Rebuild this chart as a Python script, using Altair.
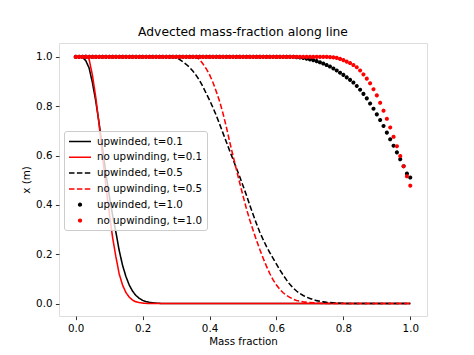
import altair as alt
import pandas as pd

# sample positions along the horizontal axis (0.00 .. 1.00, 101 samples)
X = [round(i * 0.01, 2) for i in range(101)]

LABELS = [
    "upwinded, t=0.1",
    "no upwinding, t=0.1",
    "upwinded, t=0.5",
    "no upwinding, t=0.5",
    "upwinded, t=1.0",
    "no upwinding, t=1.0",
]
COLORS = ["#000000", "#ff0000", "#000000", "#ff0000", "#000000", "#ff0000"]
DASHES = [[1, 0], [1, 0], [5.5, 2.4], [5.5, 2.4], [1, 0], [1, 0]]
LINE_GLYPH = "M-2,0H2"
DOT_GLYPH = "M-0.25,0A0.25,0.25,0,1,1,0.25,0A0.25,0.25,0,1,1,-0.25,0Z"
SHAPES = [LINE_GLYPH, LINE_GLYPH, LINE_GLYPH, LINE_GLYPH, DOT_GLYPH, DOT_GLYPH]

UPW_T01 = [
    1.0, 1.0, 0.998, 0.985, 0.955, 0.895, 0.82, 0.73, 0.63, 0.53,
    0.44, 0.36, 0.29, 0.215, 0.155, 0.11, 0.075, 0.05, 0.033, 0.021,
    0.013, 0.008, 0.005, 0.003, 0.002, 0.001, 0.0005, 0.0, 0.0, 0.0,
    0.0, 0.0, 0.0, 0.0, 0.0, 0.0, 0.0, 0.0, 0.0, 0.0,
    0.0, 0.0, 0.0, 0.0, 0.0, 0.0, 0.0, 0.0, 0.0, 0.0,
    0.0, 0.0, 0.0, 0.0, 0.0, 0.0, 0.0, 0.0, 0.0, 0.0,
    0.0, 0.0, 0.0, 0.0, 0.0, 0.0, 0.0, 0.0, 0.0, 0.0,
    0.0, 0.0, 0.0, 0.0, 0.0, 0.0, 0.0, 0.0, 0.0, 0.0,
    0.0, 0.0, 0.0, 0.0, 0.0, 0.0, 0.0, 0.0, 0.0, 0.0,
    0.0, 0.0, 0.0, 0.0, 0.0, 0.0, 0.0, 0.0, 0.0, 0.0,
    0.0,
]
NOUPW_T01 = [
    1.0, 1.0, 1.002, 1.006, 0.99, 0.925, 0.835, 0.725, 0.6, 0.48,
    0.37, 0.27, 0.19, 0.12, 0.075, 0.045, 0.026, 0.014, 0.007, 0.004,
    0.002, 0.001, 0.0, 0.0, 0.0, 0.0, 0.0, 0.0, 0.0, 0.0,
    0.0, 0.0, 0.0, 0.0, 0.0, 0.0, 0.0, 0.0, 0.0, 0.0,
    0.0, 0.0, 0.0, 0.0, 0.0, 0.0, 0.0, 0.0, 0.0, 0.0,
    0.0, 0.0, 0.0, 0.0, 0.0, 0.0, 0.0, 0.0, 0.0, 0.0,
    0.0, 0.0, 0.0, 0.0, 0.0, 0.0, 0.0, 0.0, 0.0, 0.0,
    0.0, 0.0, 0.0, 0.0, 0.0, 0.0, 0.0, 0.0, 0.0, 0.0,
    0.0, 0.0, 0.0, 0.0, 0.0, 0.0, 0.0, 0.0, 0.0, 0.0,
    0.0, 0.0, 0.0, 0.0, 0.0, 0.0, 0.0, 0.0, 0.0, 0.0,
    0.0,
]
UPW_T05 = [
    1.0, 1.0, 1.0, 1.0, 1.0, 1.0, 1.0, 1.0, 1.0, 1.0,
    1.0, 1.0, 1.0, 1.0, 1.0, 1.0, 1.0, 1.0, 1.0, 1.0,
    1.0, 1.0, 1.0, 1.0, 1.0, 1.0, 1.0, 1.0, 1.0, 0.999,
    0.997, 0.99, 0.98, 0.97, 0.958, 0.943, 0.925, 0.905, 0.88, 0.852,
    0.825, 0.795, 0.763, 0.728, 0.692, 0.656, 0.62, 0.585, 0.55, 0.515,
    0.478, 0.44, 0.40, 0.362, 0.325, 0.29, 0.26, 0.232, 0.207, 0.183,
    0.16, 0.137, 0.116, 0.096, 0.078, 0.063, 0.051, 0.041, 0.033, 0.026,
    0.021, 0.016, 0.012, 0.009, 0.007, 0.005, 0.004, 0.003, 0.002, 0.0015,
    0.001, 0.0005, 0.0, 0.0, 0.0, 0.0, 0.0, 0.0, 0.0, 0.0,
    0.0, 0.0, 0.0, 0.0, 0.0, 0.0, 0.0, 0.0, 0.0, 0.0,
    0.0,
]
NOUPW_T05 = [
    1.0, 1.0, 1.0, 1.0, 1.0, 1.0, 1.0, 1.0, 1.0, 1.0,
    1.0, 1.0, 1.0, 1.0, 1.0, 1.0, 1.0, 1.0, 1.0, 1.0,
    1.0, 1.0, 1.0, 1.0, 1.0, 1.0, 1.0, 1.0, 1.0, 1.0,
    1.0, 1.0, 1.0, 1.0, 1.0, 1.0, 0.998, 0.99, 0.972, 0.952,
    0.928, 0.897, 0.86, 0.82, 0.772, 0.717, 0.657, 0.60, 0.545, 0.49,
    0.437, 0.386, 0.34, 0.298, 0.258, 0.22, 0.185, 0.152, 0.122, 0.096,
    0.075, 0.058, 0.044, 0.033, 0.025, 0.018, 0.013, 0.01, 0.007, 0.005,
    0.004, 0.003, 0.002, 0.001, 0.0, 0.0, 0.0, 0.0, 0.0, 0.0,
    0.0, 0.0, 0.0, 0.0, 0.0, 0.0, 0.0, 0.0, 0.0, 0.0,
    0.0, 0.0, 0.0, 0.0, 0.0, 0.0, 0.0, 0.0, 0.0, 0.0,
    0.0,
]
UPW_T10 = [
    1.0, 1.0, 1.0, 1.0, 1.0, 1.0, 1.0, 1.0, 1.0, 1.0,
    1.0, 1.0, 1.0, 1.0, 1.0, 1.0, 1.0, 1.0, 1.0, 1.0,
    1.0, 1.0, 1.0, 1.0, 1.0, 1.0, 1.0, 1.0, 1.0, 1.0,
    1.0, 1.0, 1.0, 1.0, 1.0, 1.0, 1.0, 1.0, 1.0, 1.0,
    1.0, 1.0, 1.0, 1.0, 1.0, 1.0, 1.0, 1.0, 1.0, 1.0,
    1.0, 1.0, 1.0, 1.0, 1.0, 1.0, 1.0, 1.0, 1.0, 1.0,
    1.0, 1.0, 1.0, 1.0, 1.0, 1.0, 0.999, 0.998, 0.996, 0.993,
    0.990, 0.987, 0.983, 0.978, 0.973, 0.967, 0.961, 0.953, 0.945, 0.936,
    0.927, 0.917, 0.907, 0.896, 0.882, 0.867, 0.850, 0.832, 0.811, 0.790,
    0.767, 0.744, 0.720, 0.693, 0.666, 0.640, 0.613, 0.585, 0.557, 0.527,
    0.511,
]
NOUPW_T10 = [
    1.0, 1.0, 1.0, 1.0, 1.0, 1.0, 1.0, 1.0, 1.0, 1.0,
    1.0, 1.0, 1.0, 1.0, 1.0, 1.0, 1.0, 1.0, 1.0, 1.0,
    1.0, 1.0, 1.0, 1.0, 1.0, 1.0, 1.0, 1.0, 1.0, 1.0,
    1.0, 1.0, 1.0, 1.0, 1.0, 1.0, 1.0, 1.0, 1.0, 1.0,
    1.0, 1.0, 1.0, 1.0, 1.0, 1.0, 1.0, 1.0, 1.0, 1.0,
    1.0, 1.0, 1.0, 1.0, 1.0, 1.0, 1.0, 1.0, 1.0, 1.0,
    1.0, 1.0, 1.0, 1.0, 1.0, 1.0, 1.0, 1.0, 1.0, 1.0,
    1.0, 1.0, 1.0, 1.0, 1.0, 1.0, 0.999, 0.998, 0.996, 0.992,
    0.987, 0.981, 0.975, 0.967, 0.958, 0.945, 0.929, 0.912, 0.893, 0.869,
    0.844, 0.814, 0.782, 0.749, 0.714, 0.676, 0.638, 0.598, 0.557, 0.516,
    0.478,
]

X_TICKS = [0.0, 0.2, 0.4, 0.6, 0.8, 1.0]
Y_TICKS = [0.0, 0.2, 0.4, 0.6, 0.8, 1.0]

FONT = "DejaVu Sans"
FS = 10.3


def frame(values, label):
    return pd.DataFrame({"x": X, "y": values, "series": label})


xscale = alt.Scale(domain=[-0.05, 1.05], nice=False, zero=False)
yscale = alt.Scale(domain=[-0.0503, 1.0563], nice=False, zero=False)

axis_common = dict(
    format=".1f", tickSize=3.6, tickWidth=0.8, tickColor="black",
    labelPadding=3.4, labelFontSize=FS, labelFont=FONT, labelColor="black",
    domain=False, grid=False, titleFont=FONT, titleFontSize=FS,
    titleFontWeight="normal", titleColor="black",
)
xaxis = alt.Axis(values=X_TICKS, titlePadding=3, **axis_common)
yaxis = alt.Axis(values=Y_TICKS, titlePadding=4, **axis_common)

legend = alt.Legend(
    title=None, orient="none", legendX=5, legendY=88,
    symbolSize=121, symbolStrokeWidth=1.5, symbolOffset=5.5, labelOffset=10.5,
    labelFont=FONT, labelFontSize=FS, labelColor="black",
    rowPadding=3.8, padding=4, cornerRadius=2.5,
    strokeColor="#cccccc", fillColor="rgba(255,255,255,0.8)",
)

xenc = alt.X("x:Q", scale=xscale, axis=xaxis, title="Mass fraction")
yenc = alt.Y("y:Q", scale=yscale, axis=yaxis, title="x (m)")

line_series = [
    (UPW_T01, LABELS[0], COLORS[0], DASHES[0]),
    (NOUPW_T01, LABELS[1], COLORS[1], DASHES[1]),
    (UPW_T05, LABELS[2], COLORS[2], DASHES[2]),
    (NOUPW_T05, LABELS[3], COLORS[3], DASHES[3]),
]
layers = []
for vals, lab, col, dash in line_series:
    layers.append(
        alt.Chart(frame(vals, lab))
        .mark_line(strokeWidth=1.55, strokeDash=dash, color=col)
        .encode(x=xenc, y=yenc)
    )

dots = pd.concat([frame(UPW_T10, LABELS[4]), frame(NOUPW_T10, LABELS[5])])
layers.append(
    alt.Chart(dots)
    .mark_point(filled=True, size=108, opacity=1, strokeWidth=1.5)
    .encode(
        x=xenc,
        y=yenc,
        fill=alt.Fill("series:N", scale=alt.Scale(domain=LABELS, range=COLORS), legend=legend),
        stroke=alt.Stroke("series:N", scale=alt.Scale(domain=LABELS, range=COLORS), legend=legend),
        shape=alt.Shape("series:N", scale=alt.Scale(domain=LABELS, range=SHAPES), legend=legend),
        strokeDash=alt.StrokeDash("series:N", scale=alt.Scale(domain=LABELS, range=DASHES), legend=legend),
    )
)

chart = (
    alt.layer(*layers)
    .properties(
        width=368, height=273,
        title=alt.TitleParams(
            "Advected mass-fraction along line", font=FONT, fontSize=12.3,
            fontWeight="normal", color="black", anchor="middle", offset=5,
        ),
        padding={"left": 59, "top": 43, "right": 47, "bottom": 39},
        autosize=alt.AutoSizeParams(type="none"),
    )
    .configure_view(stroke="black", strokeWidth=0.8)
    .configure(background="white")
)

chart.save("out.html", embed_options={"renderer": "svg", "actions": False})
